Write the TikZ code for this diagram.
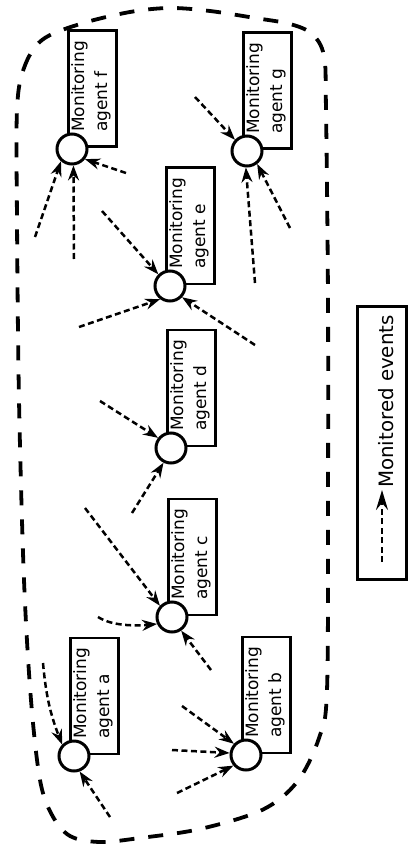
\documentclass[tikz,border=0pt]{standalone}
\usepackage{fontspec}
\setmainfont{DejaVu Sans}
\usetikzlibrary{arrows.meta}
\begin{document}
\begin{tikzpicture}[x=1pt,y=-1pt,
  agentcirc/.style={circle, draw, line width=3pt, fill=white, minimum size=30pt, inner sep=0pt},
  agentbox/.style={draw, line width=2.5pt, minimum width=48pt, minimum height=116pt, inner sep=0pt, anchor=south west},
  agenttext/.style={rotate=90, anchor=west, align=left, inner sep=0pt, font=\fontsize{17}{23}\selectfont},
  evt/.style={line width=2.5pt, dash pattern=on 6pt off 3.5pt, -{Stealth[length=15pt,width=11pt,inset=5pt]}},
  boundary/.style={line width=3.8pt, dash pattern=on 15pt off 14pt},
]
\useasboundingbox (0,0) rectangle (410,850);
% dashed boundary
\draw[boundary] plot[smooth cycle, tension=0.55] coordinates {
 (17,110) (24,68) (42,40) (80,24) (130,12) (170,8) (210,11) (255,18) (290,24) (312,34) (324,56)
 (326,110) (328,300) (328,500) (327,690) (319,738) (297,782) (262,810) (200,829) (140,838) (100,842)
 (70,836) (52,815) (40,780) (31,700) (24,580) (19,400) (17,220)};
% agents
\foreach \n/\cx/\cy in {a/74/756, b/246/755, c/172/617, d/171/448, e/170/286, f/72/149, g/247/151} {
  \node[agentbox] (box\n) at (\cx-5,\cy-1) {};
  \node[agenttext] (t\n) at (\cx+19,\cy-17) {Monitoring\\agent \n};
  \node[agentcirc] (\n) at (\cx,\cy) {};
}
% event sources
\coordinate (sf1) at (35,237);  \coordinate (sf2) at (74,259);  \coordinate (sf3) at (126,173);
\coordinate (sg1) at (195,97);  \coordinate (sg2) at (255,283); \coordinate (sg3) at (290,228);
\coordinate (se1) at (102,211); \coordinate (se2) at (79,327);  \coordinate (se3) at (255,345);
\coordinate (sd1) at (100,401); \coordinate (sd2) at (132,513);
\coordinate (sc1) at (85,508);  \coordinate (sc2) at (98,617);  \coordinate (sc3) at (211,670);
\coordinate (sa1) at (43,663);  \coordinate (sa2) at (110,817);
\coordinate (sb1) at (182,706); \coordinate (sb2) at (172,750); \coordinate (sb3) at (177,793);
\draw[evt] (sf1) -- (f.228);
\draw[evt] (sf2) -- (f.275);
\draw[evt] (sf3) -- (f.322);
\draw[evt] (sg1) -- (g.137);
\draw[evt] (sg2) -- (g.266);
\draw[evt] (sg3) -- (g.308);
\draw[evt] (se1) -- (e.135);
\draw[evt] (se2) -- (e.233);
\draw[evt] (se3) -- (e.317);
\draw[evt] (sd1) -- (d.142);
\draw[evt] (sd2) -- (d.243);
\draw[evt] (sc1) -- (c.137);
\draw[evt] (sc2) .. controls (112,626) and (135,626) .. (c.205);
\draw[evt] (sc3) -- (c.304);
\draw[evt] (sa1) to[bend right=8] (a.136);
\draw[evt] (sa2) -- (a.290);
\draw[evt] (sb1) -- (b.137);
\draw[evt] (sb2) -- (b.173);
\draw[evt] (sb3) -- (b.220);
% legend
\node[draw, line width=2.5pt, minimum width=49pt, minimum height=273pt, inner sep=0pt, anchor=north west] (legend) at (356,305) {};
\node[rotate=90, anchor=west, inner sep=0pt, font=\fontsize{19.8}{24}\selectfont] (legtext) at (386,488) {Monitored events};
\coordinate (legs) at (382,562);
\coordinate (lege) at (382,490);
\draw[line width=2.5pt, dash pattern=on 6pt off 3.5pt, -{Stealth[length=20pt,width=12pt,inset=7pt]}] (legs) -- (lege);
\end{tikzpicture}
\end{document}
